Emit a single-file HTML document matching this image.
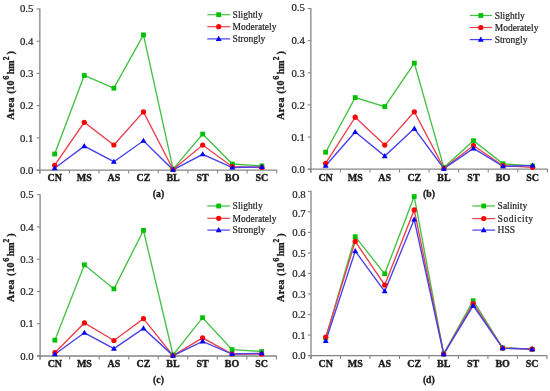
<!DOCTYPE html>
<html><head><meta charset="utf-8"><title>Area chart</title>
<style>
html,body{margin:0;padding:0;background:#fff;}
body{width:550px;height:391px;overflow:hidden;}
svg{display:block;filter:blur(0.35px);}
text{font-family:"Liberation Serif","Times New Roman",serif;fill:#222;}
.tl{font-size:10.8px;text-anchor:end;stroke:#222;stroke-width:0.2px;}
.cl{font-size:10px;font-weight:bold;text-anchor:middle;stroke:#111;stroke-width:0.35px;}
.yt{font-size:10px;font-weight:bold;stroke:#111;stroke-width:0.3px;}
.sup{font-size:7.5px;}
.lg{font-size:9.5px;stroke:#222;stroke-width:0.2px;}
.pl{font-size:9.7px;font-weight:bold;text-anchor:middle;stroke:#111;stroke-width:0.3px;}
</style></head>
<body>
<svg width="550" height="391" viewBox="0 0 550 391">
<rect width="550" height="391" fill="#fff"/>
<line x1="39.85" y1="8.45" x2="39.85" y2="173.65" stroke="#858585" stroke-width="1.3"/>
<line x1="36.85" y1="170.15" x2="277.2" y2="170.15" stroke="#858585" stroke-width="1.3"/>
<line x1="36.65" y1="170.15" x2="39.85" y2="170.15" stroke="#858585" stroke-width="1.1"/>
<text x="33.40" y="173.90" class="tl">0.0</text>
<line x1="36.65" y1="137.91" x2="39.85" y2="137.91" stroke="#858585" stroke-width="1.1"/>
<text x="33.40" y="141.66" class="tl">0.1</text>
<line x1="36.65" y1="105.67" x2="39.85" y2="105.67" stroke="#858585" stroke-width="1.1"/>
<text x="33.40" y="109.42" class="tl">0.2</text>
<line x1="36.65" y1="73.43" x2="39.85" y2="73.43" stroke="#858585" stroke-width="1.1"/>
<text x="33.40" y="77.18" class="tl">0.3</text>
<line x1="36.65" y1="41.19" x2="39.85" y2="41.19" stroke="#858585" stroke-width="1.1"/>
<text x="33.40" y="44.94" class="tl">0.4</text>
<line x1="36.65" y1="8.95" x2="39.85" y2="8.95" stroke="#858585" stroke-width="1.1"/>
<text x="33.40" y="11.75" class="tl">0.5</text>
<line x1="39.85" y1="170.15" x2="39.85" y2="173.55" stroke="#858585" stroke-width="1.1"/>
<line x1="69.46" y1="170.15" x2="69.46" y2="173.55" stroke="#858585" stroke-width="1.1"/>
<line x1="99.06" y1="170.15" x2="99.06" y2="173.55" stroke="#858585" stroke-width="1.1"/>
<line x1="128.67" y1="170.15" x2="128.67" y2="173.55" stroke="#858585" stroke-width="1.1"/>
<line x1="158.28" y1="170.15" x2="158.28" y2="173.55" stroke="#858585" stroke-width="1.1"/>
<line x1="187.88" y1="170.15" x2="187.88" y2="173.55" stroke="#858585" stroke-width="1.1"/>
<line x1="217.49" y1="170.15" x2="217.49" y2="173.55" stroke="#858585" stroke-width="1.1"/>
<line x1="247.09" y1="170.15" x2="247.09" y2="173.55" stroke="#858585" stroke-width="1.1"/>
<line x1="276.70" y1="170.15" x2="276.70" y2="173.55" stroke="#858585" stroke-width="1.1"/>
<text x="54.65" y="181.25" class="cl">CN</text>
<text x="84.26" y="181.25" class="cl">MS</text>
<text x="113.87" y="181.25" class="cl">AS</text>
<text x="143.47" y="181.25" class="cl">CZ</text>
<text x="173.08" y="181.25" class="cl">BL</text>
<text x="202.68" y="181.25" class="cl">ST</text>
<text x="232.29" y="181.25" class="cl">BO</text>
<text x="261.90" y="181.25" class="cl">SC</text>
<text transform="translate(13.5,119.8) rotate(-90)" class="yt"><tspan letter-spacing="0.45">Area</tspan> <tspan dx="0.8">(10</tspan><tspan class="sup" dx="1" dy="-4.6">6</tspan><tspan dx="1.5" dy="4.6">hm</tspan><tspan class="sup" dx="0" dy="-4.6">2</tspan><tspan dx="2.0" dy="4.6">)</tspan></text>
<polyline points="54.65,154.00 84.26,75.50 113.87,88.20 143.47,34.90 173.08,169.10 202.68,134.10 232.29,164.00 261.90,165.90" fill="none" stroke="#44c044" stroke-width="1.35"/>
<polyline points="54.65,165.30 84.26,122.30 113.87,145.00 143.47,111.90 173.08,169.50 202.68,145.00 232.29,166.70 261.90,167.50" fill="none" stroke="#ea404c" stroke-width="1.35"/>
<polyline points="54.65,168.20 84.26,146.10 113.87,161.70 143.47,140.80 173.08,169.80 202.68,154.30 232.29,167.50 261.90,166.90" fill="none" stroke="#4840ec" stroke-width="1.35"/>
<rect x="52.25" y="151.60" width="4.8" height="4.8" fill="#00c000"/>
<rect x="81.86" y="73.10" width="4.8" height="4.8" fill="#00c000"/>
<rect x="111.47" y="85.80" width="4.8" height="4.8" fill="#00c000"/>
<rect x="141.07" y="32.50" width="4.8" height="4.8" fill="#00c000"/>
<rect x="170.68" y="166.70" width="4.8" height="4.8" fill="#00c000"/>
<rect x="200.28" y="131.70" width="4.8" height="4.8" fill="#00c000"/>
<rect x="229.89" y="161.60" width="4.8" height="4.8" fill="#00c000"/>
<rect x="259.50" y="163.50" width="4.8" height="4.8" fill="#00c000"/>
<circle cx="54.65" cy="165.30" r="2.6" fill="#ff0000"/>
<circle cx="84.26" cy="122.30" r="2.6" fill="#ff0000"/>
<circle cx="113.87" cy="145.00" r="2.6" fill="#ff0000"/>
<circle cx="143.47" cy="111.90" r="2.6" fill="#ff0000"/>
<circle cx="173.08" cy="169.50" r="2.6" fill="#ff0000"/>
<circle cx="202.68" cy="145.00" r="2.6" fill="#ff0000"/>
<circle cx="232.29" cy="166.70" r="2.6" fill="#ff0000"/>
<circle cx="261.90" cy="167.50" r="2.6" fill="#ff0000"/>
<polygon points="54.65,165.14 57.60,170.24 51.70,170.24" fill="#0000ff"/>
<polygon points="84.26,143.04 87.21,148.14 81.31,148.14" fill="#0000ff"/>
<polygon points="113.87,158.64 116.82,163.74 110.92,163.74" fill="#0000ff"/>
<polygon points="143.47,137.74 146.42,142.84 140.52,142.84" fill="#0000ff"/>
<polygon points="173.08,166.74 176.03,171.84 170.13,171.84" fill="#0000ff"/>
<polygon points="202.68,151.24 205.63,156.34 199.73,156.34" fill="#0000ff"/>
<polygon points="232.29,164.44 235.24,169.54 229.34,169.54" fill="#0000ff"/>
<polygon points="261.90,163.84 264.85,168.94 258.95,168.94" fill="#0000ff"/>
<line x1="207.3" y1="14.7" x2="230.2" y2="14.7" stroke="#44c044" stroke-width="1.2"/>
<rect x="216.30" y="12.30" width="4.8" height="4.8" fill="#00c000"/>
<text x="232.6" y="18.00" class="lg">Slightly</text>
<line x1="207.3" y1="26.7" x2="230.2" y2="26.7" stroke="#ea404c" stroke-width="1.2"/>
<circle cx="218.70" cy="26.70" r="2.6" fill="#ff0000"/>
<text x="232.6" y="30.00" class="lg">Moderately</text>
<line x1="207.3" y1="38.9" x2="230.2" y2="38.9" stroke="#4840ec" stroke-width="1.2"/>
<polygon points="218.70,35.84 221.65,40.94 215.75,40.94" fill="#0000ff"/>
<text x="232.6" y="42.20" class="lg">Strongly</text>
<text x="158.5" y="197.3" class="pl">(a)</text>
<line x1="310.85" y1="8.0" x2="310.85" y2="172.7" stroke="#858585" stroke-width="1.3"/>
<line x1="307.85" y1="169.2" x2="547.9" y2="169.2" stroke="#858585" stroke-width="1.3"/>
<line x1="307.65000000000003" y1="169.20" x2="310.85" y2="169.20" stroke="#858585" stroke-width="1.1"/>
<text x="304.90" y="172.95" class="tl">0.0</text>
<line x1="307.65000000000003" y1="137.06" x2="310.85" y2="137.06" stroke="#858585" stroke-width="1.1"/>
<text x="304.90" y="140.81" class="tl">0.1</text>
<line x1="307.65000000000003" y1="104.92" x2="310.85" y2="104.92" stroke="#858585" stroke-width="1.1"/>
<text x="304.90" y="108.67" class="tl">0.2</text>
<line x1="307.65000000000003" y1="72.78" x2="310.85" y2="72.78" stroke="#858585" stroke-width="1.1"/>
<text x="304.90" y="76.53" class="tl">0.3</text>
<line x1="307.65000000000003" y1="40.64" x2="310.85" y2="40.64" stroke="#858585" stroke-width="1.1"/>
<text x="304.90" y="44.39" class="tl">0.4</text>
<line x1="307.65000000000003" y1="8.50" x2="310.85" y2="8.50" stroke="#858585" stroke-width="1.1"/>
<text x="304.90" y="11.10" class="tl">0.5</text>
<line x1="310.85" y1="169.2" x2="310.85" y2="172.6" stroke="#858585" stroke-width="1.1"/>
<line x1="340.42" y1="169.2" x2="340.42" y2="172.6" stroke="#858585" stroke-width="1.1"/>
<line x1="369.99" y1="169.2" x2="369.99" y2="172.6" stroke="#858585" stroke-width="1.1"/>
<line x1="399.56" y1="169.2" x2="399.56" y2="172.6" stroke="#858585" stroke-width="1.1"/>
<line x1="429.12" y1="169.2" x2="429.12" y2="172.6" stroke="#858585" stroke-width="1.1"/>
<line x1="458.69" y1="169.2" x2="458.69" y2="172.6" stroke="#858585" stroke-width="1.1"/>
<line x1="488.26" y1="169.2" x2="488.26" y2="172.6" stroke="#858585" stroke-width="1.1"/>
<line x1="517.83" y1="169.2" x2="517.83" y2="172.6" stroke="#858585" stroke-width="1.1"/>
<line x1="547.40" y1="169.2" x2="547.40" y2="172.6" stroke="#858585" stroke-width="1.1"/>
<text x="325.63" y="180.70" class="cl">CN</text>
<text x="355.20" y="180.70" class="cl">MS</text>
<text x="384.77" y="180.70" class="cl">AS</text>
<text x="414.34" y="180.70" class="cl">CZ</text>
<text x="443.91" y="180.70" class="cl">BL</text>
<text x="473.48" y="180.70" class="cl">ST</text>
<text x="503.05" y="180.70" class="cl">BO</text>
<text x="532.62" y="180.70" class="cl">SC</text>
<text transform="translate(283.5,119.8) rotate(-90)" class="yt"><tspan letter-spacing="0.45">Area</tspan> <tspan dx="0.8">(10</tspan><tspan class="sup" dx="1" dy="-4.6">6</tspan><tspan dx="1.5" dy="4.6">hm</tspan><tspan class="sup" dx="0" dy="-4.6">2</tspan><tspan dx="2.0" dy="4.6">)</tspan></text>
<polyline points="325.63,152.20 355.20,97.60 384.77,106.60 414.34,63.10 443.91,167.60 473.48,140.70 503.05,163.80 532.62,166.00" fill="none" stroke="#44c044" stroke-width="1.35"/>
<polyline points="325.63,163.40 355.20,117.20 384.77,145.10 414.34,111.80 443.91,168.30 473.48,145.50 503.05,165.70 532.62,167.30" fill="none" stroke="#ea404c" stroke-width="1.35"/>
<polyline points="325.63,165.70 355.20,132.00 384.77,156.10 414.34,128.60 443.91,168.60 473.48,148.40 503.05,166.30 532.62,165.50" fill="none" stroke="#4840ec" stroke-width="1.35"/>
<rect x="323.23" y="149.80" width="4.8" height="4.8" fill="#00c000"/>
<rect x="352.80" y="95.20" width="4.8" height="4.8" fill="#00c000"/>
<rect x="382.37" y="104.20" width="4.8" height="4.8" fill="#00c000"/>
<rect x="411.94" y="60.70" width="4.8" height="4.8" fill="#00c000"/>
<rect x="441.51" y="165.20" width="4.8" height="4.8" fill="#00c000"/>
<rect x="471.08" y="138.30" width="4.8" height="4.8" fill="#00c000"/>
<rect x="500.65" y="161.40" width="4.8" height="4.8" fill="#00c000"/>
<rect x="530.22" y="163.60" width="4.8" height="4.8" fill="#00c000"/>
<circle cx="325.63" cy="163.40" r="2.6" fill="#ff0000"/>
<circle cx="355.20" cy="117.20" r="2.6" fill="#ff0000"/>
<circle cx="384.77" cy="145.10" r="2.6" fill="#ff0000"/>
<circle cx="414.34" cy="111.80" r="2.6" fill="#ff0000"/>
<circle cx="443.91" cy="168.30" r="2.6" fill="#ff0000"/>
<circle cx="473.48" cy="145.50" r="2.6" fill="#ff0000"/>
<circle cx="503.05" cy="165.70" r="2.6" fill="#ff0000"/>
<circle cx="532.62" cy="167.30" r="2.6" fill="#ff0000"/>
<polygon points="325.63,162.64 328.58,167.74 322.68,167.74" fill="#0000ff"/>
<polygon points="355.20,128.94 358.15,134.04 352.25,134.04" fill="#0000ff"/>
<polygon points="384.77,153.04 387.72,158.14 381.82,158.14" fill="#0000ff"/>
<polygon points="414.34,125.54 417.29,130.64 411.39,130.64" fill="#0000ff"/>
<polygon points="443.91,165.54 446.86,170.64 440.96,170.64" fill="#0000ff"/>
<polygon points="473.48,145.34 476.43,150.44 470.53,150.44" fill="#0000ff"/>
<polygon points="503.05,163.24 506.00,168.34 500.10,168.34" fill="#0000ff"/>
<polygon points="532.62,162.44 535.57,167.54 529.67,167.54" fill="#0000ff"/>
<line x1="469.8" y1="15.5" x2="491.9" y2="15.5" stroke="#44c044" stroke-width="1.2"/>
<rect x="478.40" y="13.10" width="4.8" height="4.8" fill="#00c000"/>
<text x="494.7" y="18.80" class="lg">Slightly</text>
<line x1="469.8" y1="27.5" x2="491.9" y2="27.5" stroke="#ea404c" stroke-width="1.2"/>
<circle cx="480.80" cy="27.50" r="2.6" fill="#ff0000"/>
<text x="494.7" y="30.80" class="lg">Moderately</text>
<line x1="469.8" y1="39.6" x2="491.9" y2="39.6" stroke="#4840ec" stroke-width="1.2"/>
<polygon points="480.80,36.54 483.75,41.64 477.85,41.64" fill="#0000ff"/>
<text x="494.7" y="42.90" class="lg">Strongly</text>
<text x="429.0" y="197.3" class="pl">(b)</text>
<line x1="40.1" y1="194.2" x2="40.1" y2="359.5" stroke="#858585" stroke-width="1.3"/>
<line x1="37.1" y1="356.0" x2="276.9" y2="356.0" stroke="#858585" stroke-width="1.3"/>
<line x1="36.9" y1="356.00" x2="40.1" y2="356.00" stroke="#858585" stroke-width="1.1"/>
<text x="33.65" y="359.75" class="tl">0.0</text>
<line x1="36.9" y1="323.74" x2="40.1" y2="323.74" stroke="#858585" stroke-width="1.1"/>
<text x="33.65" y="327.49" class="tl">0.1</text>
<line x1="36.9" y1="291.48" x2="40.1" y2="291.48" stroke="#858585" stroke-width="1.1"/>
<text x="33.65" y="295.23" class="tl">0.2</text>
<line x1="36.9" y1="259.22" x2="40.1" y2="259.22" stroke="#858585" stroke-width="1.1"/>
<text x="33.65" y="262.97" class="tl">0.3</text>
<line x1="36.9" y1="226.96" x2="40.1" y2="226.96" stroke="#858585" stroke-width="1.1"/>
<text x="33.65" y="230.71" class="tl">0.4</text>
<line x1="36.9" y1="194.70" x2="40.1" y2="194.70" stroke="#858585" stroke-width="1.1"/>
<text x="33.65" y="197.85" class="tl">0.5</text>
<line x1="40.10" y1="356.0" x2="40.10" y2="359.4" stroke="#858585" stroke-width="1.1"/>
<line x1="69.64" y1="356.0" x2="69.64" y2="359.4" stroke="#858585" stroke-width="1.1"/>
<line x1="99.17" y1="356.0" x2="99.17" y2="359.4" stroke="#858585" stroke-width="1.1"/>
<line x1="128.71" y1="356.0" x2="128.71" y2="359.4" stroke="#858585" stroke-width="1.1"/>
<line x1="158.25" y1="356.0" x2="158.25" y2="359.4" stroke="#858585" stroke-width="1.1"/>
<line x1="187.79" y1="356.0" x2="187.79" y2="359.4" stroke="#858585" stroke-width="1.1"/>
<line x1="217.32" y1="356.0" x2="217.32" y2="359.4" stroke="#858585" stroke-width="1.1"/>
<line x1="246.86" y1="356.0" x2="246.86" y2="359.4" stroke="#858585" stroke-width="1.1"/>
<line x1="276.40" y1="356.0" x2="276.40" y2="359.4" stroke="#858585" stroke-width="1.1"/>
<text x="54.87" y="367.10" class="cl">CN</text>
<text x="84.41" y="367.10" class="cl">MS</text>
<text x="113.94" y="367.10" class="cl">AS</text>
<text x="143.48" y="367.10" class="cl">CZ</text>
<text x="173.02" y="367.10" class="cl">BL</text>
<text x="202.56" y="367.10" class="cl">ST</text>
<text x="232.09" y="367.10" class="cl">BO</text>
<text x="261.63" y="367.10" class="cl">SC</text>
<text transform="translate(13.5,301.9) rotate(-90)" class="yt"><tspan letter-spacing="0.45">Area</tspan> <tspan dx="0.8">(10</tspan><tspan class="sup" dx="1" dy="-4.6">6</tspan><tspan dx="1.5" dy="4.6">hm</tspan><tspan class="sup" dx="0" dy="-4.6">2</tspan><tspan dx="2.0" dy="4.6">)</tspan></text>
<polyline points="54.87,340.20 84.41,264.80 113.94,288.90 143.48,230.40 173.02,354.90 202.56,317.70 232.09,349.60 261.63,351.50" fill="none" stroke="#44c044" stroke-width="1.35"/>
<polyline points="54.87,352.70 84.41,322.90 113.94,340.50 143.48,318.60 173.02,355.60 202.56,337.90 232.09,354.00 261.63,354.00" fill="none" stroke="#ea404c" stroke-width="1.35"/>
<polyline points="54.87,354.30 84.41,332.80 113.94,348.60 143.48,328.40 173.02,355.60 202.56,341.40 232.09,354.00 261.63,353.30" fill="none" stroke="#4840ec" stroke-width="1.35"/>
<rect x="52.47" y="337.80" width="4.8" height="4.8" fill="#00c000"/>
<rect x="82.01" y="262.40" width="4.8" height="4.8" fill="#00c000"/>
<rect x="111.54" y="286.50" width="4.8" height="4.8" fill="#00c000"/>
<rect x="141.08" y="228.00" width="4.8" height="4.8" fill="#00c000"/>
<rect x="170.62" y="352.50" width="4.8" height="4.8" fill="#00c000"/>
<rect x="200.16" y="315.30" width="4.8" height="4.8" fill="#00c000"/>
<rect x="229.69" y="347.20" width="4.8" height="4.8" fill="#00c000"/>
<rect x="259.23" y="349.10" width="4.8" height="4.8" fill="#00c000"/>
<circle cx="54.87" cy="352.70" r="2.6" fill="#ff0000"/>
<circle cx="84.41" cy="322.90" r="2.6" fill="#ff0000"/>
<circle cx="113.94" cy="340.50" r="2.6" fill="#ff0000"/>
<circle cx="143.48" cy="318.60" r="2.6" fill="#ff0000"/>
<circle cx="173.02" cy="355.60" r="2.6" fill="#ff0000"/>
<circle cx="202.56" cy="337.90" r="2.6" fill="#ff0000"/>
<circle cx="232.09" cy="354.00" r="2.6" fill="#ff0000"/>
<circle cx="261.63" cy="354.00" r="2.6" fill="#ff0000"/>
<polygon points="54.87,351.24 57.82,356.34 51.92,356.34" fill="#0000ff"/>
<polygon points="84.41,329.74 87.36,334.84 81.46,334.84" fill="#0000ff"/>
<polygon points="113.94,345.54 116.89,350.64 110.99,350.64" fill="#0000ff"/>
<polygon points="143.48,325.34 146.43,330.44 140.53,330.44" fill="#0000ff"/>
<polygon points="173.02,352.54 175.97,357.64 170.07,357.64" fill="#0000ff"/>
<polygon points="202.56,338.34 205.51,343.44 199.61,343.44" fill="#0000ff"/>
<polygon points="232.09,350.94 235.04,356.04 229.14,356.04" fill="#0000ff"/>
<polygon points="261.63,350.24 264.58,355.34 258.68,355.34" fill="#0000ff"/>
<line x1="207.3" y1="206.0" x2="229.9" y2="206.0" stroke="#44c044" stroke-width="1.2"/>
<rect x="216.30" y="203.60" width="4.8" height="4.8" fill="#00c000"/>
<text x="232.6" y="209.30" class="lg">Slightly</text>
<line x1="207.3" y1="218.3" x2="229.9" y2="218.3" stroke="#ea404c" stroke-width="1.2"/>
<circle cx="218.70" cy="218.30" r="2.6" fill="#ff0000"/>
<text x="232.6" y="221.60" class="lg">Moderately</text>
<line x1="207.3" y1="230.1" x2="229.9" y2="230.1" stroke="#4840ec" stroke-width="1.2"/>
<polygon points="218.70,227.04 221.65,232.14 215.75,232.14" fill="#0000ff"/>
<text x="232.6" y="233.40" class="lg">Strongly</text>
<text x="158.5" y="383.3" class="pl">(c)</text>
<line x1="311.0" y1="190.8" x2="311.0" y2="359.1" stroke="#858585" stroke-width="1.3"/>
<line x1="308.0" y1="355.6" x2="547.4" y2="355.6" stroke="#858585" stroke-width="1.3"/>
<line x1="307.8" y1="355.60" x2="311.0" y2="355.60" stroke="#858585" stroke-width="1.1"/>
<text x="305.75" y="359.35" class="tl">0.0</text>
<line x1="307.8" y1="335.06" x2="311.0" y2="335.06" stroke="#858585" stroke-width="1.1"/>
<text x="305.75" y="338.81" class="tl">0.1</text>
<line x1="307.8" y1="314.53" x2="311.0" y2="314.53" stroke="#858585" stroke-width="1.1"/>
<text x="305.75" y="318.28" class="tl">0.2</text>
<line x1="307.8" y1="293.99" x2="311.0" y2="293.99" stroke="#858585" stroke-width="1.1"/>
<text x="305.75" y="297.74" class="tl">0.3</text>
<line x1="307.8" y1="273.45" x2="311.0" y2="273.45" stroke="#858585" stroke-width="1.1"/>
<text x="305.75" y="277.20" class="tl">0.4</text>
<line x1="307.8" y1="252.91" x2="311.0" y2="252.91" stroke="#858585" stroke-width="1.1"/>
<text x="305.75" y="256.66" class="tl">0.5</text>
<line x1="307.8" y1="232.38" x2="311.0" y2="232.38" stroke="#858585" stroke-width="1.1"/>
<text x="305.75" y="236.12" class="tl">0.6</text>
<line x1="307.8" y1="211.84" x2="311.0" y2="211.84" stroke="#858585" stroke-width="1.1"/>
<text x="305.75" y="216.59" class="tl">0.7</text>
<line x1="307.8" y1="191.30" x2="311.0" y2="191.30" stroke="#858585" stroke-width="1.1"/>
<text x="305.75" y="198.25" class="tl">0.8</text>
<line x1="311.00" y1="355.6" x2="311.00" y2="359.0" stroke="#858585" stroke-width="1.1"/>
<line x1="340.49" y1="355.6" x2="340.49" y2="359.0" stroke="#858585" stroke-width="1.1"/>
<line x1="369.98" y1="355.6" x2="369.98" y2="359.0" stroke="#858585" stroke-width="1.1"/>
<line x1="399.46" y1="355.6" x2="399.46" y2="359.0" stroke="#858585" stroke-width="1.1"/>
<line x1="428.95" y1="355.6" x2="428.95" y2="359.0" stroke="#858585" stroke-width="1.1"/>
<line x1="458.44" y1="355.6" x2="458.44" y2="359.0" stroke="#858585" stroke-width="1.1"/>
<line x1="487.92" y1="355.6" x2="487.92" y2="359.0" stroke="#858585" stroke-width="1.1"/>
<line x1="517.41" y1="355.6" x2="517.41" y2="359.0" stroke="#858585" stroke-width="1.1"/>
<line x1="546.90" y1="355.6" x2="546.90" y2="359.0" stroke="#858585" stroke-width="1.1"/>
<text x="325.74" y="366.70" class="cl">CN</text>
<text x="355.23" y="366.70" class="cl">MS</text>
<text x="384.72" y="366.70" class="cl">AS</text>
<text x="414.21" y="366.70" class="cl">CZ</text>
<text x="443.69" y="366.70" class="cl">BL</text>
<text x="473.18" y="366.70" class="cl">ST</text>
<text x="502.67" y="366.70" class="cl">BO</text>
<text x="532.16" y="366.70" class="cl">SC</text>
<text transform="translate(283.5,301.9) rotate(-90)" class="yt"><tspan letter-spacing="0.45">Area</tspan> <tspan dx="0.8">(10</tspan><tspan class="sup" dx="1" dy="-4.6">6</tspan><tspan dx="1.5" dy="4.6">hm</tspan><tspan class="sup" dx="0" dy="-4.6">2</tspan><tspan dx="2.0" dy="4.6">)</tspan></text>
<polyline points="325.74,338.10 355.23,236.70 384.72,273.80 414.21,196.50 443.69,353.90 473.18,300.70 502.67,347.90 532.16,349.20" fill="none" stroke="#44c044" stroke-width="1.35"/>
<polyline points="325.74,337.20 355.23,241.40 384.72,285.00 414.21,209.90 443.69,354.10 473.18,303.60 502.67,348.10 532.16,349.20" fill="none" stroke="#ea404c" stroke-width="1.35"/>
<polyline points="325.74,341.00 355.23,251.10 384.72,291.30 414.21,219.50 443.69,354.10 473.18,305.60 502.67,348.10 532.16,349.20" fill="none" stroke="#4840ec" stroke-width="1.35"/>
<rect x="323.34" y="335.70" width="4.8" height="4.8" fill="#00c000"/>
<rect x="352.83" y="234.30" width="4.8" height="4.8" fill="#00c000"/>
<rect x="382.32" y="271.40" width="4.8" height="4.8" fill="#00c000"/>
<rect x="411.81" y="194.10" width="4.8" height="4.8" fill="#00c000"/>
<rect x="441.29" y="351.50" width="4.8" height="4.8" fill="#00c000"/>
<rect x="470.78" y="298.30" width="4.8" height="4.8" fill="#00c000"/>
<rect x="500.27" y="345.50" width="4.8" height="4.8" fill="#00c000"/>
<rect x="529.76" y="346.80" width="4.8" height="4.8" fill="#00c000"/>
<circle cx="325.74" cy="337.20" r="2.6" fill="#ff0000"/>
<circle cx="355.23" cy="241.40" r="2.6" fill="#ff0000"/>
<circle cx="384.72" cy="285.00" r="2.6" fill="#ff0000"/>
<circle cx="414.21" cy="209.90" r="2.6" fill="#ff0000"/>
<circle cx="443.69" cy="354.10" r="2.6" fill="#ff0000"/>
<circle cx="473.18" cy="303.60" r="2.6" fill="#ff0000"/>
<circle cx="502.67" cy="348.10" r="2.6" fill="#ff0000"/>
<circle cx="532.16" cy="349.20" r="2.6" fill="#ff0000"/>
<polygon points="325.74,337.94 328.69,343.04 322.79,343.04" fill="#0000ff"/>
<polygon points="355.23,248.04 358.18,253.14 352.28,253.14" fill="#0000ff"/>
<polygon points="384.72,288.24 387.67,293.34 381.77,293.34" fill="#0000ff"/>
<polygon points="414.21,216.44 417.16,221.54 411.26,221.54" fill="#0000ff"/>
<polygon points="443.69,351.04 446.64,356.14 440.74,356.14" fill="#0000ff"/>
<polygon points="473.18,302.54 476.13,307.64 470.23,307.64" fill="#0000ff"/>
<polygon points="502.67,345.04 505.62,350.14 499.72,350.14" fill="#0000ff"/>
<polygon points="532.16,346.14 535.11,351.24 529.21,351.24" fill="#0000ff"/>
<line x1="472.3" y1="206.0" x2="495.2" y2="206.0" stroke="#44c044" stroke-width="1.2"/>
<rect x="481.30" y="203.60" width="4.8" height="4.8" fill="#00c000"/>
<text x="497.6" y="209.30" class="lg">Salinity</text>
<line x1="472.3" y1="218.6" x2="495.2" y2="218.6" stroke="#ea404c" stroke-width="1.2"/>
<circle cx="483.70" cy="218.60" r="2.6" fill="#ff0000"/>
<text x="497.6" y="221.90" class="lg" letter-spacing="0.55">Sodicity</text>
<line x1="472.3" y1="230.1" x2="495.2" y2="230.1" stroke="#4840ec" stroke-width="1.2"/>
<polygon points="483.70,227.04 486.65,232.14 480.75,232.14" fill="#0000ff"/>
<text x="497.6" y="233.40" class="lg">HSS</text>
<text x="428.8" y="383.3" class="pl">(d)</text>
</svg>
</body></html>
